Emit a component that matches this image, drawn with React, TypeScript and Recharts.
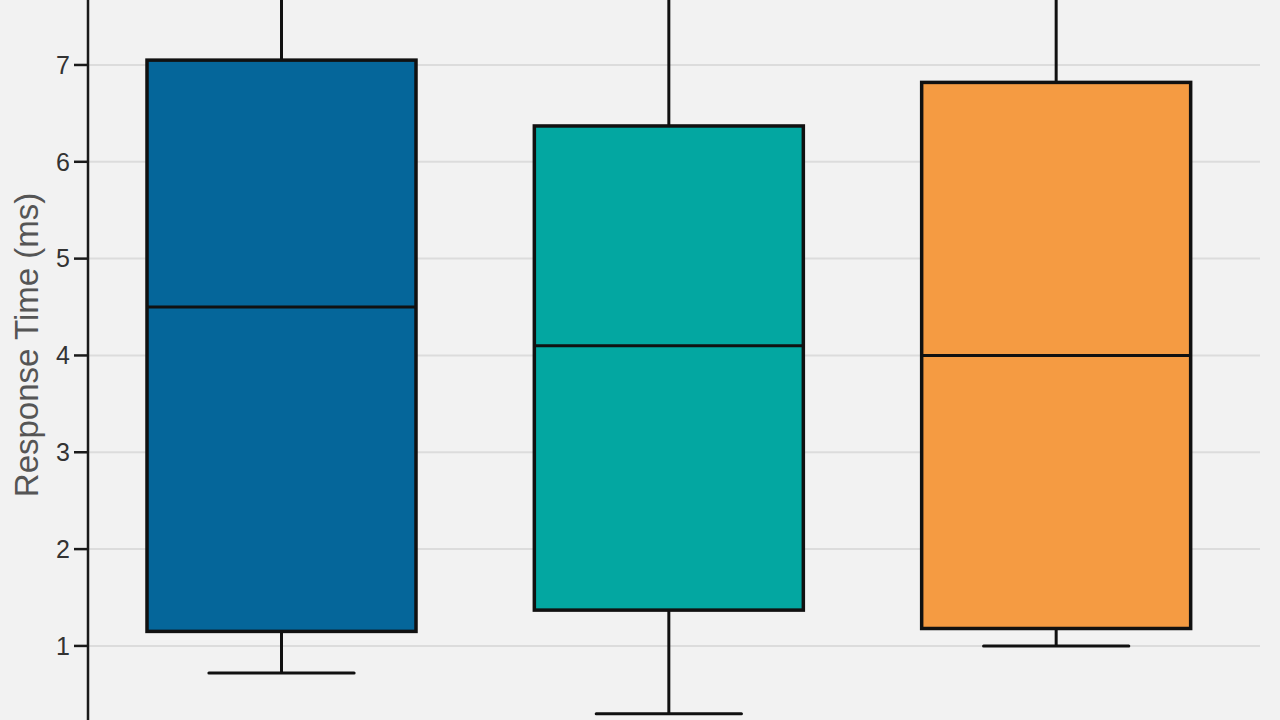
import React from "react";
import { BarChart, Bar, XAxis, YAxis, CartesianGrid } from "recharts";

const groups = ["Group A", "Group B", "Group C"];
const mins = [0.72, 0.3, 1.0];
const q1s = [1.15, 1.37, 1.18];
const medians = [4.5, 4.1, 4.0];
const q3s = [7.05, 6.37, 6.82];
const maxs = [8.6, 8.4, 8.5];
const colors = ["#05669a", "#03a7a1", "#f59b42"];
const yTicks = [1, 2, 3, 4, 5, 6, 7];

const data = groups.map((name, i) => ({
  name,
  min: mins[i],
  q1: q1s[i],
  median: medians[i],
  q3: q3s[i],
  max: maxs[i],
  fill: colors[i],
}));

const BoxShape = (props: any) => {
  const { x, y, width, height, payload } = props;
  if (!payload) return null;
  const ppu = height / (payload.q3 - payload.q1); // pixels per unit from the bar itself
  const toY = (v: number) => y + (payload.q3 - v) * ppu;
  const cx = x + width / 2;
  const cap = width * 0.27;
  const stroke = "#111";
  return (
    <g>
      <line x1={cx} x2={cx} y1={toY(payload.max)} y2={y} stroke={stroke} strokeWidth={3} />
      <line x1={cx} x2={cx} y1={y + height} y2={toY(payload.min)} stroke={stroke} strokeWidth={3} />
      <line
        x1={cx - cap}
        x2={cx + cap}
        y1={toY(payload.min)}
        y2={toY(payload.min)}
        stroke={stroke}
        strokeWidth={3}
        strokeLinecap="round"
      />
      <rect x={x} y={y} width={width} height={height} fill={payload.fill} stroke={stroke} strokeWidth={3.5} />
      <line
        x1={x}
        x2={x + width}
        y1={toY(payload.median)}
        y2={toY(payload.median)}
        stroke={stroke}
        strokeWidth={3}
      />
    </g>
  );
};

const YLabel = (props: any) => {
  const vb = props.viewBox || { x: 0, y: 0, width: 88, height: 720 };
  const lx = vb.x + 26;
  const ly = vb.y + vb.height / 2 - 15;
  return (
    <text
      x={lx}
      y={ly}
      transform={`rotate(-90, ${lx}, ${ly})`}
      textAnchor="middle"
      dominantBaseline="central"
      fill="#555"
      fontSize={33}
      fontFamily="Liberation Sans, Arial, sans-serif"
    >
      Response Time (ms)
    </text>
  );
};

export default function App() {
  return (
    <div
      style={{
        position: "absolute",
        left: 0,
        top: 0,
        width: 1280,
        height: 720,
        background: "#f2f2f2",
      }}
    >
      <BarChart
        width={1280}
        height={720}
        data={data}
        margin={{ top: 0, right: 20, left: 0, bottom: 0 }}
      >
        <CartesianGrid horizontal={true} vertical={false} syncWithTicks stroke="#dcdcdc" strokeWidth={2} />
        <CartesianGrid horizontal={false} vertical={true} syncWithTicks stroke="#e2e2e2" strokeWidth={1} />
        <XAxis
          dataKey="name"
          height={0}
          tick={false}
          axisLine={false}
          tickLine={false}
          padding={{ left: 0, right: 10 }}
        />
        <YAxis
          width={88}
          domain={[0.235, 7.671]}
          ticks={yTicks}
          allowDataOverflow
          axisLine={{ stroke: "#1a1a1a", strokeWidth: 2.5 }}
          tickLine={{ stroke: "#1a1a1a", strokeWidth: 2.5 }}
          tickSize={14}
          tickMargin={4}
          tick={{ fill: "#333", fontSize: 25, fontFamily: "Liberation Sans, Arial, sans-serif" }}
          label={<YLabel />}
        />
        <Bar
          dataKey={(d: any) => [d.q1, d.q3]}
          barSize={269}
          shape={<BoxShape />}
          isAnimationActive={false}
        />
      </BarChart>
    </div>
  );
}
